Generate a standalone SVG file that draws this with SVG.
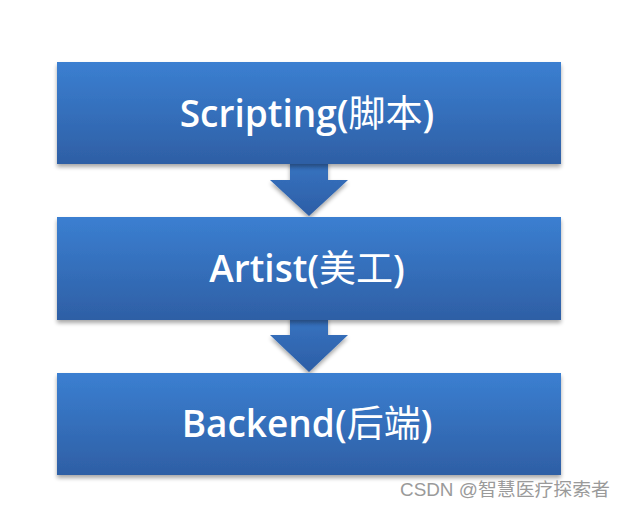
<svg xmlns="http://www.w3.org/2000/svg" width="626" height="507" viewBox="0 0 626 507">
<defs>
<linearGradient id="g" x1="0" y1="0" x2="0" y2="1">
<stop offset="0" stop-color="#3b7fd1"/>
<stop offset="1" stop-color="#2e5fa5"/>
</linearGradient>
<linearGradient id="ga" x1="0" y1="0" x2="0" y2="1">
<stop offset="0" stop-color="#3874c2"/>
<stop offset="1" stop-color="#2c5ea6"/>
</linearGradient>
<filter id="sh" x="-5%" y="-10%" width="110%" height="130%">
<feGaussianBlur in="SourceAlpha" stdDeviation="2"/>
<feOffset dx="0" dy="3"/>
<feComponentTransfer><feFuncA type="linear" slope="0.35"/></feComponentTransfer>
<feMerge><feMergeNode/><feMergeNode in="SourceGraphic"/></feMerge>
</filter>
<style>
.box{fill:url(#g);filter:url(#sh)}
.arr{fill:url(#ga);filter:url(#sh)}
.lbl{fill:#ffffff;font-family:"Open Sans","Noto Sans CJK SC",sans-serif;font-size:37px;font-weight:600;text-anchor:middle}
.cjk{font-family:"Noto Sans CJK SC",sans-serif;font-weight:400}
.wm{fill:#9a9a9a;font-family:"Liberation Sans","Noto Sans CJK SC",sans-serif;font-size:18px}
</style>
</defs>
<rect width="626" height="507" fill="#ffffff"/>
<g id="connectors">
<polygon class="arr" points="290,160 328,160 328,180 348,180 309,216 270,180 290,180"/>
<polygon class="arr" points="290,316 328,316 328,335 348,335 309,372 270,335 290,335"/>
</g>
<g id="node-scripting">
<rect class="box" x="57" y="62" width="504" height="102"/>
<text class="lbl" x="307" y="127">Scripting(<tspan class="cjk">脚本</tspan>)</text>
</g>
<g id="node-artist">
<rect class="box" x="57" y="217" width="504" height="103"/>
<text class="lbl" x="307" y="282">Artist(<tspan class="cjk">美工</tspan>)</text>
</g>
<g id="node-backend">
<rect class="box" x="57" y="373" width="504" height="102"/>
<text class="lbl" x="307" y="437">Backend(<tspan class="cjk">后端</tspan>)</text>
</g>
<text class="wm" x="400" y="496" textLength="210" lengthAdjust="spacingAndGlyphs">CSDN @智慧医疗探索者</text>
</svg>
